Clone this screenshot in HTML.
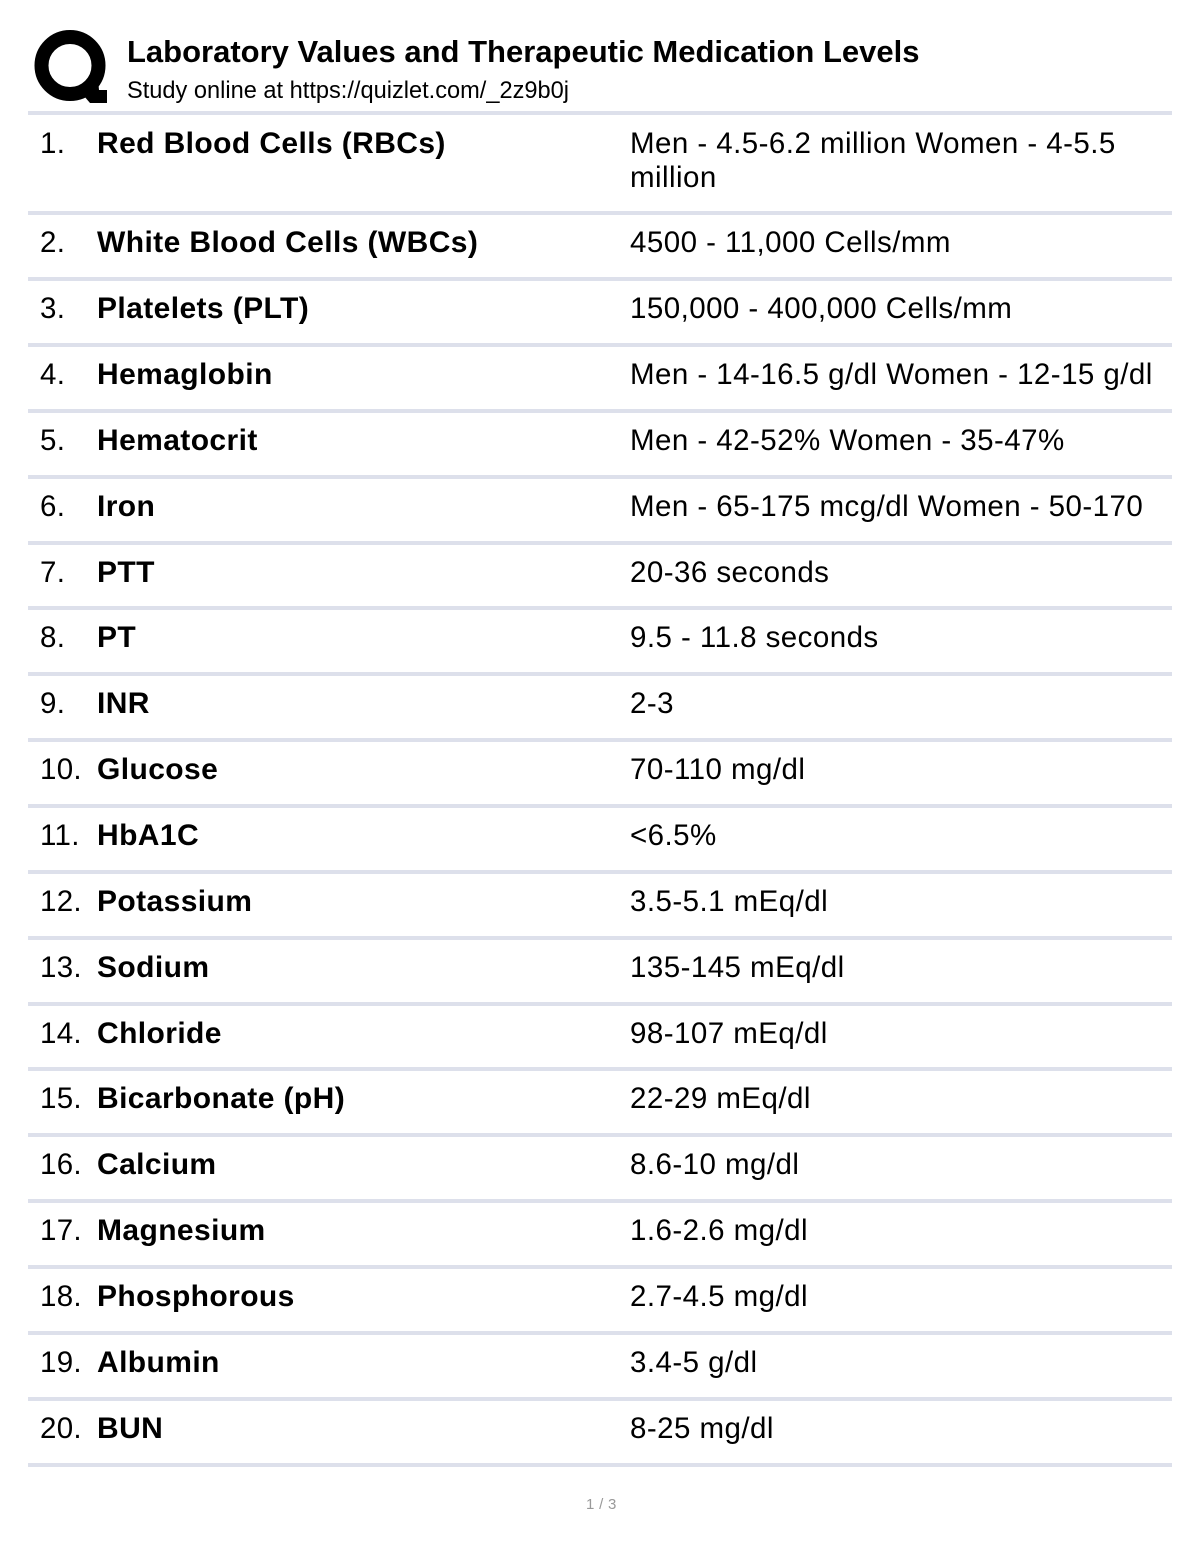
<!DOCTYPE html>
<html>
<head>
<meta charset="utf-8">
<style>
  html, body { margin:0; padding:0; }
  body { width:1200px; height:1553px; position:relative; background:#fff; overflow:hidden;
         font-family:"Liberation Sans", Arial, sans-serif; color:#000; }
  .hr { position:absolute; left:28px; width:1144px; height:4px; background:#dde0eb; }
  .t { position:absolute; line-height:34px; white-space:nowrap; margin-top:2px; }
  .n { left:40px; font-size:29.5px; letter-spacing:0.3px; }
  .l { left:97px; font-size:30px; font-weight:bold; letter-spacing:0.4px; }
  .v { left:630px; font-size:29.5px; letter-spacing:0.45px; }
  .title { position:absolute; left:127px; top:35px; font-size:31px; line-height:34px; font-weight:bold; white-space:nowrap; }
  .sub { position:absolute; left:127px; top:78px; font-size:23.6px; line-height:27px; white-space:nowrap; }
  .pg { position:absolute; left:586px; top:1497px; font-size:15px; line-height:16px; color:#999; letter-spacing:0.3px; }
</style>
</head>
<body>
<svg style="position:absolute;left:0;top:0" width="120" height="120" viewBox="0 0 120 120">
  <ellipse cx="70" cy="65.5" rx="28.5" ry="28.5" fill="none" stroke="#000" stroke-width="14"/>
  <path d="M86 84 L98 80 L99 90 L107 90 L107 103 L90 103 L84 96 Z" fill="#000"/>
</svg>
<div class="title">Laboratory Values and Therapeutic Medication Levels</div>
<div class="sub">Study online at https://quizlet.com/_2z9b0j</div>

<div class="hr" style="top:111px"></div>

<div class="t n" style="top:125px">1.</div>
<div class="t l" style="top:125px">Red Blood Cells (RBCs)</div>
<div class="t v" style="top:125px">Men - 4.5-6.2 million Women - 4-5.5<br>million</div>

<div class="hr" style="top:211px"></div>
<div class="t n" style="top:224px">2.</div>
<div class="t l" style="top:224px">White Blood Cells (WBCs)</div>
<div class="t v" style="top:224px">4500 - 11,000 Cells/mm</div>

<div class="hr" style="top:277px"></div>
<div class="t n" style="top:290px">3.</div>
<div class="t l" style="top:290px">Platelets (PLT)</div>
<div class="t v" style="top:290px">150,000 - 400,000 Cells/mm</div>

<div class="hr" style="top:343px"></div>
<div class="t n" style="top:356px">4.</div>
<div class="t l" style="top:356px">Hemaglobin</div>
<div class="t v" style="top:356px">Men - 14-16.5 g/dl Women - 12-15 g/dl</div>

<div class="hr" style="top:409px"></div>
<div class="t n" style="top:422px">5.</div>
<div class="t l" style="top:422px">Hematocrit</div>
<div class="t v" style="top:422px">Men - 42-52% Women - 35-47%</div>

<div class="hr" style="top:475px"></div>
<div class="t n" style="top:488px">6.</div>
<div class="t l" style="top:488px">Iron</div>
<div class="t v" style="top:488px">Men - 65-175 mcg/dl Women - 50-170</div>

<div class="hr" style="top:541px"></div>
<div class="t n" style="top:554px">7.</div>
<div class="t l" style="top:554px">PTT</div>
<div class="t v" style="top:554px">20-36 seconds</div>

<div class="hr" style="top:606px"></div>
<div class="t n" style="top:619px">8.</div>
<div class="t l" style="top:619px">PT</div>
<div class="t v" style="top:619px">9.5 - 11.8 seconds</div>

<div class="hr" style="top:672px"></div>
<div class="t n" style="top:685px">9.</div>
<div class="t l" style="top:685px">INR</div>
<div class="t v" style="top:685px">2-3</div>

<div class="hr" style="top:738px"></div>
<div class="t n" style="top:751px">10.</div>
<div class="t l" style="top:751px">Glucose</div>
<div class="t v" style="top:751px">70-110 mg/dl</div>

<div class="hr" style="top:804px"></div>
<div class="t n" style="top:817px">11.</div>
<div class="t l" style="top:817px">HbA1C</div>
<div class="t v" style="top:817px">&lt;6.5%</div>

<div class="hr" style="top:870px"></div>
<div class="t n" style="top:883px">12.</div>
<div class="t l" style="top:883px">Potassium</div>
<div class="t v" style="top:883px">3.5-5.1 mEq/dl</div>

<div class="hr" style="top:936px"></div>
<div class="t n" style="top:949px">13.</div>
<div class="t l" style="top:949px">Sodium</div>
<div class="t v" style="top:949px">135-145 mEq/dl</div>

<div class="hr" style="top:1002px"></div>
<div class="t n" style="top:1015px">14.</div>
<div class="t l" style="top:1015px">Chloride</div>
<div class="t v" style="top:1015px">98-107 mEq/dl</div>

<div class="hr" style="top:1067px"></div>
<div class="t n" style="top:1080px">15.</div>
<div class="t l" style="top:1080px">Bicarbonate (pH)</div>
<div class="t v" style="top:1080px">22-29 mEq/dl</div>

<div class="hr" style="top:1133px"></div>
<div class="t n" style="top:1146px">16.</div>
<div class="t l" style="top:1146px">Calcium</div>
<div class="t v" style="top:1146px">8.6-10 mg/dl</div>

<div class="hr" style="top:1199px"></div>
<div class="t n" style="top:1212px">17.</div>
<div class="t l" style="top:1212px">Magnesium</div>
<div class="t v" style="top:1212px">1.6-2.6 mg/dl</div>

<div class="hr" style="top:1265px"></div>
<div class="t n" style="top:1278px">18.</div>
<div class="t l" style="top:1278px">Phosphorous</div>
<div class="t v" style="top:1278px">2.7-4.5 mg/dl</div>

<div class="hr" style="top:1331px"></div>
<div class="t n" style="top:1344px">19.</div>
<div class="t l" style="top:1344px">Albumin</div>
<div class="t v" style="top:1344px">3.4-5 g/dl</div>

<div class="hr" style="top:1397px"></div>
<div class="t n" style="top:1410px">20.</div>
<div class="t l" style="top:1410px">BUN</div>
<div class="t v" style="top:1410px">8-25 mg/dl</div>

<div class="hr" style="top:1463px"></div>

<div class="pg">1 / 3</div>
</body>
</html>
